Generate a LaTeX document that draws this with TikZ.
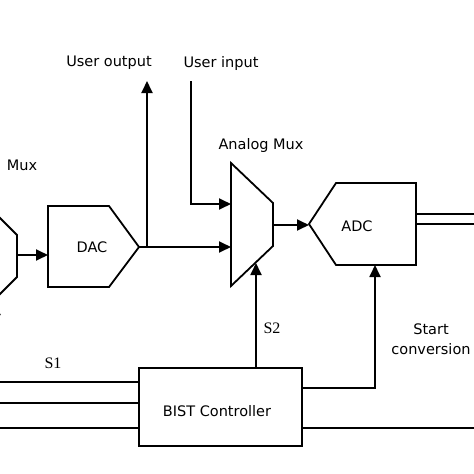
\documentclass[tikz,border=0pt]{standalone}
\usepackage{fontspec}
\setmainfont{DejaVu Sans}
\newfontfamily\sigfont{Liberation Serif}
\usetikzlibrary{arrows.meta}
\usetikzlibrary{positioning}

\begin{document}
\begin{tikzpicture}[x=1pt,y=-1pt]

	\tikzset{EdgeStyle/.style = {line width=1.8pt}}
	\tikzset{ArrowStyle/.style = {EdgeStyle,
			-{Triangle[length=12pt,width=11pt]}}}
	\tikzset{BlockStyle/.style = {draw, line width=1.8pt,
			inner sep=0pt}}
	\tikzset{TextStyle/.style = {font=\fontsize{14.5}{20}\selectfont,
			inner sep=0pt}}
	\tikzset{SigStyle/.style = {font=\sigfont\fontsize{16}{18}\selectfont,
			inner sep=0pt}}

	\clip (0,0) rectangle (474,474);

	% blocks
	\draw[EdgeStyle] (-6,212) -- (17,235) -- (17,277) -- (-6,300);
	\draw[EdgeStyle] (48,206) -- (109,206) -- (139,247) -- (109,287) -- (48,287) -- cycle;
	\draw[EdgeStyle] (231,163) -- (273,203) -- (273,246) -- (231,286) -- cycle;
	\draw[EdgeStyle] (309,224) -- (336,183) -- (416,183) -- (416,265) -- (336,265) -- cycle;
	\node[BlockStyle, minimum width=163pt, minimum height=78pt](bist) at (220.5,407){};

	\coordinate (hex) at (17,255);
	\coordinate (dacin) at (48,255);
	\coordinate (dacout) at (139,247);
	\coordinate (muxtop) at (231,204);
	\coordinate (muxlow) at (231,247);
	\coordinate (muxout) at (273,225);
	\coordinate (muxsel) at (256,263);
	\coordinate (adcin) at (309,225);
	\coordinate (adcstart) at (375,265);
	\coordinate (userout) at (147,81);
	\coordinate (userin) at (191,81);

	% labels
	\node[TextStyle](muxa) at (22,165){Mux};
	\node[TextStyle](dac) at (92,247){DAC};
	\node[TextStyle](amux) at (261,145){Analog Mux};
	\node[TextStyle](adc) at (357,226){ADC};
	\node[TextStyle](uout) at (109,63){User output};
	\node[TextStyle](uin) at (221,63){User input};
	\node[TextStyle, align=center](start) at (431,339){Start\\conversion};
	\node[TextStyle](ctrl) at (217,411){BIST Controller};
	\node[SigStyle](s1) at (53,363){S1};
	\node[SigStyle](s2) at (272,328){S2};

	% connectors
	\draw[ArrowStyle](hex) -- (dacin);
	\draw[ArrowStyle](-5,330) -- (-5,303);
	\draw[ArrowStyle](dacout) -- (muxlow);
	\draw[ArrowStyle](dacout -| userout) -- (userout);
	\draw[ArrowStyle](userin) -- (userin |- muxtop) -- (muxtop);
	\draw[ArrowStyle](muxout) -- (adcin);
	\draw[EdgeStyle](416,214) -- (474,214);
	\draw[EdgeStyle](416,224) -- (474,224);
	\draw[ArrowStyle](bist.north -| muxsel) -- (muxsel);
	\draw[ArrowStyle](bist.east |- 0,388) -- (adcstart |- 0,388) -- (adcstart);
	\draw[EdgeStyle](0,382) -- (bist.west |- 0,382);
	\draw[EdgeStyle](0,403) -- (bist.west |- 0,403);
	\draw[EdgeStyle](0,428) -- (bist.west |- 0,428);
	\draw[EdgeStyle](bist.east |- 0,428) -- (474,428);
\end{tikzpicture}
\end{document}
